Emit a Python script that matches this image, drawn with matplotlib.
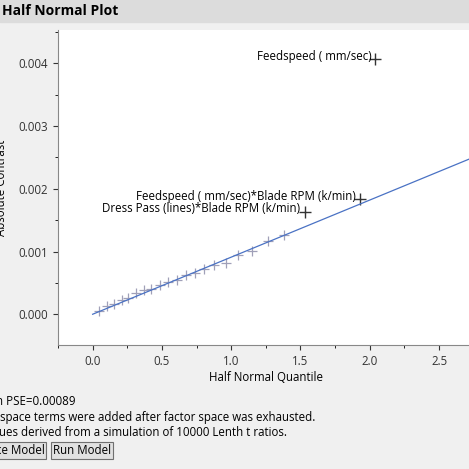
import matplotlib
matplotlib.use("Agg")
import matplotlib.pyplot as plt
from matplotlib.patches import Rectangle

quantiles = [0.046,0.102,0.156,0.209,0.258,0.314,0.370,0.423,0.484,0.545,0.606,0.672,0.739,0.805,0.878,0.964,1.051,1.148,1.263,1.380]
contrasts = [0.053,0.127,0.159,0.223,0.260,0.340,0.382,0.409,0.462,0.515,0.553,0.633,0.658,0.728,0.781,0.818,0.940,1.009,1.168,1.259]
contrasts = [c/1000 for c in contrasts]
lab_q = [2.04, 1.93, 1.53]
lab_c = [0.00406, 0.00183, 0.00163]
lab_names = ["Feedspeed ( mm/sec)", "Feedspeed ( mm/sec)*Blade RPM (k/min)", "Dress Pass (lines)*Blade RPM (k/min)"]
pse = 0.00089
slope = 0.00091

W = 469
fig = plt.figure(figsize=(4.69,4.69), dpi=100, facecolor="#f0f0f0")
plt.rcParams['font.family'] = ['Open Sans', 'DejaVu Sans']
FS = 8.3
ax = fig.add_axes([58/W, 1-345/W, (W-58)/W+0.01, (345-30)/W])
ax.set_facecolor("white")
ax.set_xlim(-0.25, 2.75)
ax.set_ylim(-0.00049, 0.00453)
ax.plot([0, 3], [0, 3*slope], color="#4a72c4", lw=0.9)
ax.scatter(quantiles, contrasts, marker="+", s=60, color="#a0a0b8", linewidths=0.9)
ax.scatter(lab_q, lab_c, marker="+", s=70, color="#333333", linewidths=1.0)
for q, c, n in zip(lab_q, lab_c, lab_names):
    ax.text(q - 0.03, c + 0.00005, n, ha="right", va="center", fontsize=FS)
ax.set_xticks([0, 0.5, 1.0, 1.5, 2.0, 2.5])
ax.set_xticks([0.25, 0.75, 1.25, 1.75, 2.25, 2.75, -0.25], minor=True)
ax.set_yticks([0, 0.001, 0.002, 0.003, 0.004])
ax.set_yticks([0.0005, 0.0015, 0.0025, 0.0035, 0.0045], minor=True)
ax.set_yticklabels(["0.000", "0.001", "0.002", "0.003", "0.004"])
ax.tick_params(labelsize=FS, direction="out", colors="#333333")
for s in ["top", "right"]:
    ax.spines[s].set_visible(False)
ax.spines["left"].set_color("#888888")
ax.spines["bottom"].set_color("#888888")
ax.set_xlabel("Half Normal Quantile", fontsize=FS, labelpad=2)
ax.set_ylabel("Absolute Contrast", fontsize=FS, labelpad=8)

fig.patches.append(Rectangle((0, 1-22/W), 1, 22/W, transform=fig.transFigure, color="#dcdcdc"))
fig.text(2/W, 1-11/W, "Half Normal Plot", fontsize=10, fontweight="bold", va="center")
fig.text(-4/W, 1-401/W, "n PSE=0.00089", fontsize=FS, va="center")
fig.text(-3/W, 1-417/W, " space terms were added after factor space was exhausted.", fontsize=FS, va="center")
fig.text(-4/W, 1-433/W, "lues derived from a simulation of 10000 Lenth t ratios.", fontsize=FS, va="center")
for x0, x1, t in [(-5, 46, "ce Model"), (51, 113, "Run Model")]:
    fig.patches.append(Rectangle((x0/W, 1-459/W), (x1-x0)/W, 17/W, transform=fig.transFigure,
                                 facecolor="#e1e1e1", edgecolor="#707070", lw=0.8))
    fig.text((x0+x1)/2/W, 1-450.5/W, t, fontsize=FS, ha="center", va="center")
fig.savefig("out.png", dpi=100, facecolor=fig.get_facecolor())
